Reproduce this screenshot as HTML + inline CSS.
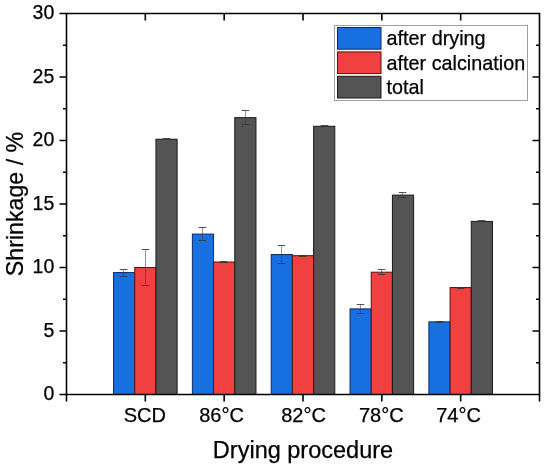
<!DOCTYPE html>
<html><head><meta charset="utf-8"><style>
html,body{margin:0;padding:0;background:#fff;}
svg{display:block;will-change:transform;}
text{font-family:"Liberation Sans",sans-serif;fill:#000;stroke:#000;stroke-width:0.25px;}
.t{font-size:19.5px;}
.tx{font-size:20px;}
.ti{font-size:23.5px;}
.tl{font-size:19.8px;}
</style></head><body>
<svg width="550" height="466" viewBox="0 0 550 466">
<rect width="550" height="466" fill="#fff"/>
<rect x="113.53" y="272.58" width="21.20" height="121.92" fill="#186fe0" stroke="#0b2a66" stroke-width="1"/>
<rect x="134.73" y="267.50" width="21.20" height="127.00" fill="#f04040" stroke="#5a1010" stroke-width="1"/>
<rect x="155.93" y="139.23" width="21.20" height="255.27" fill="#545454" stroke="#1a1a1a" stroke-width="1"/>
<rect x="192.37" y="234.10" width="21.20" height="160.40" fill="#186fe0" stroke="#0b2a66" stroke-width="1"/>
<rect x="213.57" y="262.04" width="21.20" height="132.46" fill="#f04040" stroke="#5a1010" stroke-width="1"/>
<rect x="234.77" y="117.64" width="21.20" height="276.86" fill="#545454" stroke="#1a1a1a" stroke-width="1"/>
<rect x="271.20" y="254.55" width="21.20" height="139.95" fill="#186fe0" stroke="#0b2a66" stroke-width="1"/>
<rect x="292.40" y="255.69" width="21.20" height="138.81" fill="#f04040" stroke="#5a1010" stroke-width="1"/>
<rect x="313.60" y="126.28" width="21.20" height="268.22" fill="#545454" stroke="#1a1a1a" stroke-width="1"/>
<rect x="350.03" y="308.90" width="21.20" height="85.60" fill="#186fe0" stroke="#0b2a66" stroke-width="1"/>
<rect x="371.23" y="272.20" width="21.20" height="122.30" fill="#f04040" stroke="#5a1010" stroke-width="1"/>
<rect x="392.43" y="195.11" width="21.20" height="199.39" fill="#545454" stroke="#1a1a1a" stroke-width="1"/>
<rect x="428.87" y="321.86" width="21.20" height="72.64" fill="#186fe0" stroke="#0b2a66" stroke-width="1"/>
<rect x="450.07" y="287.57" width="21.20" height="106.93" fill="#f04040" stroke="#5a1010" stroke-width="1"/>
<rect x="471.27" y="221.40" width="21.20" height="173.10" fill="#545454" stroke="#1a1a1a" stroke-width="1"/>
<path d="M123.50 269.50V276.50" stroke="#353535" stroke-opacity="0.52" stroke-width="1" fill="none"/>
<path d="M119.70 269.50H127.30M119.70 276.50H127.30" stroke="#353535" stroke-opacity="0.84" stroke-width="1" fill="none"/>
<path d="M145.50 249.50V285.50" stroke="#353535" stroke-opacity="0.52" stroke-width="1" fill="none"/>
<path d="M141.70 249.50H149.30M141.70 285.50H149.30" stroke="#353535" stroke-opacity="0.84" stroke-width="1" fill="none"/>
<path d="M166.50 138.50V139.50" stroke="#353535" stroke-opacity="0.52" stroke-width="1" fill="none"/>
<path d="M162.70 138.50H170.30M162.70 139.50H170.30" stroke="#353535" stroke-opacity="0.84" stroke-width="1" fill="none"/>
<path d="M202.50 227.50V240.50" stroke="#353535" stroke-opacity="0.52" stroke-width="1" fill="none"/>
<path d="M198.70 227.50H206.30M198.70 240.50H206.30" stroke="#353535" stroke-opacity="0.84" stroke-width="1" fill="none"/>
<path d="M223.50 261.50V262.50" stroke="#353535" stroke-opacity="0.52" stroke-width="1" fill="none"/>
<path d="M219.70 261.50H227.30M219.70 262.50H227.30" stroke="#353535" stroke-opacity="0.84" stroke-width="1" fill="none"/>
<path d="M245.50 110.50V124.50" stroke="#353535" stroke-opacity="0.52" stroke-width="1" fill="none"/>
<path d="M241.70 110.50H249.30M241.70 124.50H249.30" stroke="#353535" stroke-opacity="0.84" stroke-width="1" fill="none"/>
<path d="M281.50 245.50V263.50" stroke="#353535" stroke-opacity="0.52" stroke-width="1" fill="none"/>
<path d="M277.70 245.50H285.30M277.70 263.50H285.30" stroke="#353535" stroke-opacity="0.84" stroke-width="1" fill="none"/>
<path d="M302.50 255.50V256.50" stroke="#353535" stroke-opacity="0.52" stroke-width="1" fill="none"/>
<path d="M298.70 255.50H306.30M298.70 256.50H306.30" stroke="#353535" stroke-opacity="0.84" stroke-width="1" fill="none"/>
<path d="M324.50 125.50V126.50" stroke="#353535" stroke-opacity="0.52" stroke-width="1" fill="none"/>
<path d="M320.70 125.50H328.30M320.70 126.50H328.30" stroke="#353535" stroke-opacity="0.84" stroke-width="1" fill="none"/>
<path d="M360.50 304.50V313.50" stroke="#353535" stroke-opacity="0.52" stroke-width="1" fill="none"/>
<path d="M356.70 304.50H364.30M356.70 313.50H364.30" stroke="#353535" stroke-opacity="0.84" stroke-width="1" fill="none"/>
<path d="M381.50 269.50V274.50" stroke="#353535" stroke-opacity="0.52" stroke-width="1" fill="none"/>
<path d="M377.70 269.50H385.30M377.70 274.50H385.30" stroke="#353535" stroke-opacity="0.84" stroke-width="1" fill="none"/>
<path d="M402.50 192.50V197.50" stroke="#353535" stroke-opacity="0.52" stroke-width="1" fill="none"/>
<path d="M398.70 192.50H406.30M398.70 197.50H406.30" stroke="#353535" stroke-opacity="0.84" stroke-width="1" fill="none"/>
<path d="M439.50 321.50V322.50" stroke="#353535" stroke-opacity="0.52" stroke-width="1" fill="none"/>
<path d="M435.70 321.50H443.30M435.70 322.50H443.30" stroke="#353535" stroke-opacity="0.84" stroke-width="1" fill="none"/>
<path d="M460.50 287.50V288.50" stroke="#353535" stroke-opacity="0.52" stroke-width="1" fill="none"/>
<path d="M456.70 287.50H464.30M456.70 288.50H464.30" stroke="#353535" stroke-opacity="0.84" stroke-width="1" fill="none"/>
<path d="M481.50 220.50V221.50" stroke="#353535" stroke-opacity="0.52" stroke-width="1" fill="none"/>
<path d="M477.70 220.50H485.30M477.70 221.50H485.30" stroke="#353535" stroke-opacity="0.84" stroke-width="1" fill="none"/>
<path d="M66.5 13.5H539.5V394.5H66.5Z" fill="none" stroke="#000" stroke-width="1.6"/>
<path d="M59.5 394.5H66.5M59.5 331.0H66.5M532.5 331.0H539.5M59.5 267.5H66.5M532.5 267.5H539.5M59.5 204.0H66.5M532.5 204.0H539.5M59.5 140.5H66.5M532.5 140.5H539.5M59.5 77.0H66.5M532.5 77.0H539.5M59.5 13.5H66.5M63.0 362.75H66.5M536.0 362.75H539.5M63.0 299.25H66.5M536.0 299.25H539.5M63.0 235.75H66.5M536.0 235.75H539.5M63.0 172.25H66.5M536.0 172.25H539.5M63.0 108.75H66.5M536.0 108.75H539.5M63.0 45.25H66.5M536.0 45.25H539.5M145.33 394.5V401.5M145.33 13.5V20.5M224.17 394.5V401.5M224.17 13.5V20.5M303.00 394.5V401.5M303.00 13.5V20.5M381.83 394.5V401.5M381.83 13.5V20.5M460.67 394.5V401.5M460.67 13.5V20.5M66.5 394.5V401.5M539.5 394.5V401.5" stroke="#000" stroke-width="1.6" fill="none"/>
<text x="54.3" y="400.00" text-anchor="end" class="t">0</text>
<text x="54.3" y="336.50" text-anchor="end" class="t">5</text>
<text x="54.3" y="273.00" text-anchor="end" class="t">10</text>
<text x="54.3" y="209.50" text-anchor="end" class="t">15</text>
<text x="54.3" y="146.00" text-anchor="end" class="t">20</text>
<text x="54.3" y="82.50" text-anchor="end" class="t">25</text>
<text x="54.3" y="19.00" text-anchor="end" class="t">30</text>
<text x="144.8" y="422.2" text-anchor="middle" class="tx">SCD</text>
<text x="221.5" y="422.2" text-anchor="middle" class="tx">86°C</text>
<text x="303.6" y="422.2" text-anchor="middle" class="tx">82°C</text>
<text x="381.3" y="422.2" text-anchor="middle" class="tx">78°C</text>
<text x="458.6" y="422.2" text-anchor="middle" class="tx">74°C</text>
<text x="303" y="457.5" text-anchor="middle" class="ti">Drying procedure</text>
<text transform="translate(23.1 204) rotate(-90)" x="0" y="0" text-anchor="middle" class="ti" style="font-size:23.2px">Shrinkage / %</text>
<rect x="334.5" y="25.5" width="193" height="75" fill="#fff" stroke="#a0a0a0" stroke-width="1"/>
<rect x="337.5" y="27.50" width="43.5" height="21.7" fill="#186fe0" stroke="#0b2a66" stroke-width="1"/>
<rect x="337.5" y="51.90" width="43.5" height="21.7" fill="#f04040" stroke="#5a1010" stroke-width="1"/>
<rect x="337.5" y="76.30" width="43.5" height="21.7" fill="#545454" stroke="#1a1a1a" stroke-width="1"/>
<text x="386.6" y="45.00" class="tl">after drying</text>
<text x="386.6" y="69.60" class="tl">after calcination</text>
<text x="386.6" y="94.20" class="tl">total</text>
</svg>
</body></html>
